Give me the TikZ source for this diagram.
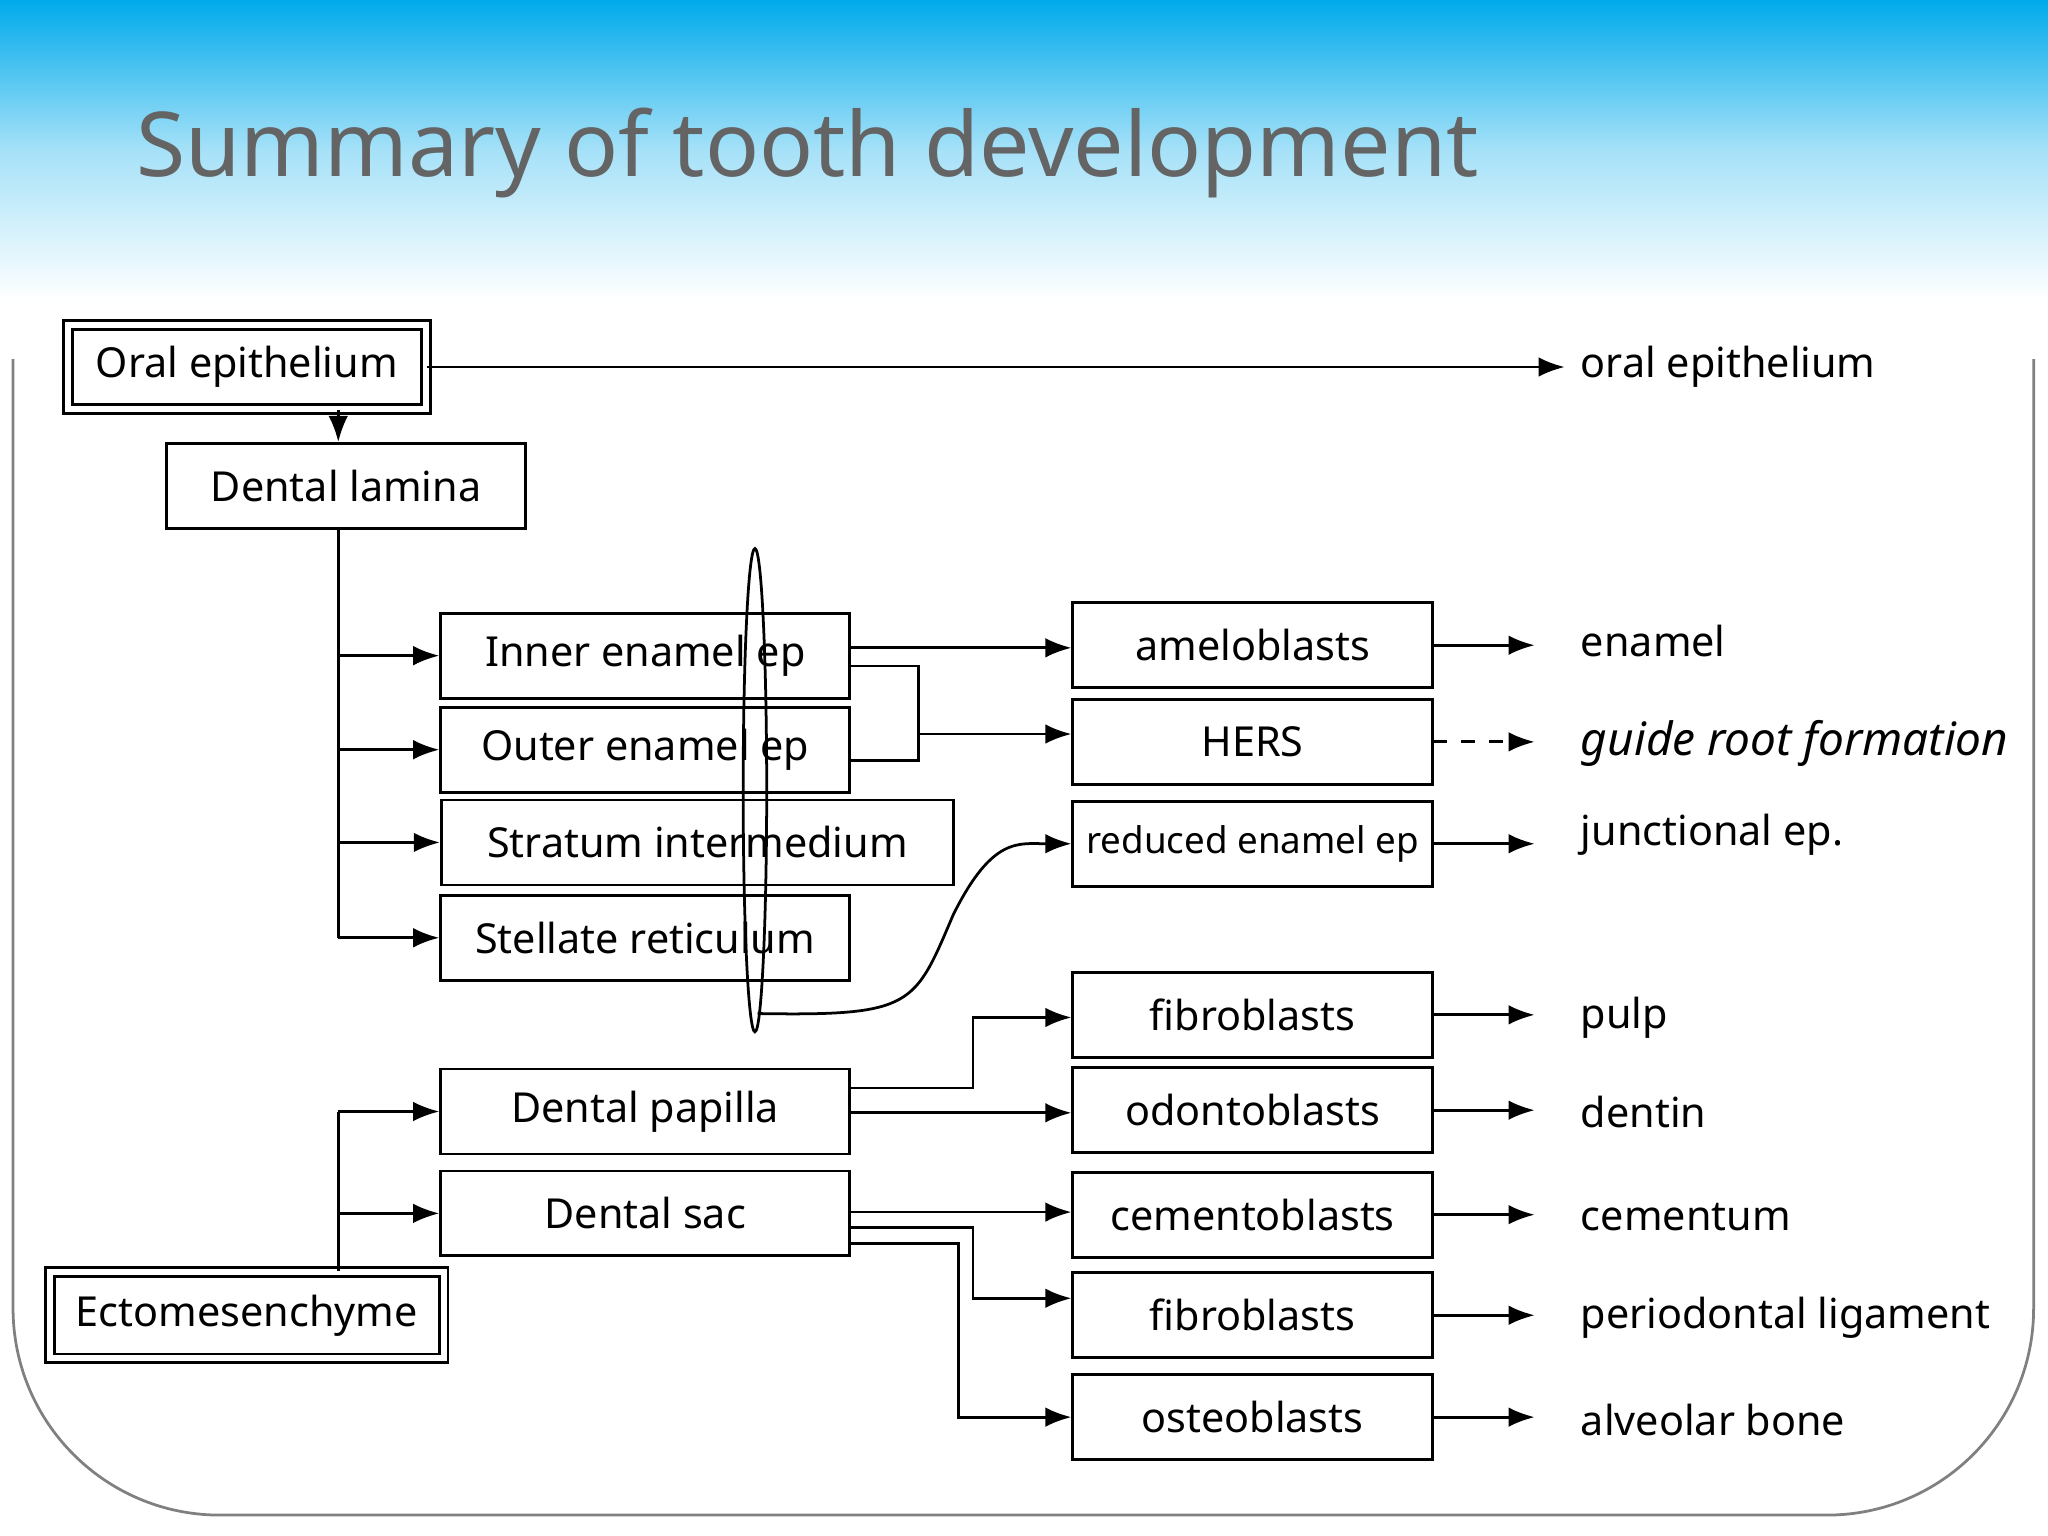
\documentclass[tikz,border=0pt]{standalone}
\usepackage{fontspec}
\setmainfont{Noto Sans}
\usetikzlibrary{arrows.meta}
\definecolor{skyblue}{RGB}{0,170,235}
\definecolor{titlegray}{RGB}{100,100,100}
\tikzset{
  box/.style={draw,semithick,minimum height=0.65cm,inner sep=0pt,font=\fontsize{9}{11}\selectfont},
  dbox/.style={box,double,double distance=1.3pt},
  outcome/.style={anchor=west,font=\fontsize{9}{11}\selectfont},
  link/.style={-{Latex[length=2mm,width=1.5mm]},semithick}
}
\begin{document}
\begin{tikzpicture}[x=0.01cm,y=-0.01cm]
\useasboundingbox (0,0) rectangle (1568,1176);
\shade[top color=skyblue,bottom color=white,middle color=skyblue!35] (0,0) rectangle (1568,230);
\node[anchor=west,text=titlegray,font=\fontsize{19.5}{24}\selectfont] (title) at (92,117) {Summary of tooth development};
\draw[gray,semithick,rounded corners=45] (10,275) -- (10,1160) -- (1557,1160) -- (1557,275);
% left column
\node[dbox,minimum width=2.74cm,minimum height=0.64cm] (oral) at (189,281) {Oral epithelium};
\node[box,minimum width=2.75cm] (lamina) at (265,372) {Dental lamina};
\node[box,minimum width=3.13cm] (inner) at (494,502) {Inner enamel ep};
\node[box,minimum width=3.13cm] (outer) at (494,574) {Outer enamel ep};
\node[box,minimum width=3.92cm] (stratum) at (534,645) {Stratum intermedium};
\node[box,minimum width=3.13cm] (stellate) at (494,718) {Stellate reticulum};
\node[box,minimum width=3.13cm] (papilla) at (494,851) {Dental papilla};
\node[box,minimum width=3.13cm] (sac) at (494,929) {Dental sac};
\node[dbox,minimum width=3.01cm,minimum height=0.66cm] (ecto) at (189,1007) {Ectomesenchyme};
% cell column
\foreach \n/\y/\t in {amelo/494/ameloblasts,hers/568/HERS,fibroA/777/fibroblasts,odonto/850/odontoblasts,cemento/930/cementoblasts,fibroB/1007/fibroblasts,osteo/1085/osteoblasts}{
  \node[box,minimum width=2.75cm] (\n) at (959,\y) {\t};
}
\node[box,minimum width=2.75cm,font=\fontsize{8}{10}\selectfont] (reduced) at (959,646) {reduced enamel ep};
% tissues
\foreach \n/\y/\t in {tOral/281/oral epithelium,tEnamel/491/enamel,tJunc/639/junctional ep.,tPulp/779/pulp,tDentin/851/dentin,tCement/932/cementum,tPdl/1009/periodontal ligament,tBone/1087/alveolar bone}{
  \node[outcome] (\n) at (1198,\y) {\t};
}
\node[outcome,font=\fontsize{10}{12}\selectfont\itshape] (tGuide) at (1198,569) {guide root formation};
% connectors
\coordinate (c) at (259,0);
\draw[link] (oral.east) -- (tOral.west);
\draw[link] (c |- oral.south) -- (c |- lamina.north);
\draw[semithick] (c |- lamina.south) -- (c |- stellate.west);
\foreach \b in {inner,outer,stratum,stellate}{
  \draw[link] (c |- \b.west) -- (\b.west);
}
\draw[semithick] (c |- ecto.north) -- (c |- papilla.west);
\foreach \b in {papilla,sac}{
  \draw[link] (c |- \b.west) -- (\b.west);
}
\draw[link] (inner.east |- 0,496) -- (amelo.west |- 0,496);
\draw[semithick] (inner.east |- 0,510) -| (703,582) -- (outer.east |- 0,582);
\draw[link] (703,562) -- (hers.west |- 0,562);
\draw[semithick] (578,605) ellipse[x radius=9,y radius=185];
\draw[link] (580,776) .. controls (700,778) and (700,770) .. (730,700) .. controls (760,640) and (780,646) .. (reduced.west);
\draw[link] (papilla.east |- 0,833) -| (745,779) -- (fibroA.west |- 0,779);
\draw[link] (papilla.east |- 0,852) -- (odonto.west |- 0,852);
\draw[link] (sac.east |- 0,928) -- (cemento.west |- 0,928);
\draw[link] (sac.east |- 0,940) -| (745,994) -- (fibroB.west |- 0,994);
\draw[link] (sac.east |- 0,952) -| (734,1085) -- (osteo.west);
\foreach \a/\b in {amelo/tEnamel,reduced/tJunc,fibroA/tPulp,odonto/tDentin,cemento/tCement,fibroB/tPdl,osteo/tBone}{
  \draw[link] (\a.east) -- (1175,0 |- \a.east);
}
\draw[link,dashed] (hers.east) -- (1175,0 |- hers.east);
\end{tikzpicture}
\end{document}
